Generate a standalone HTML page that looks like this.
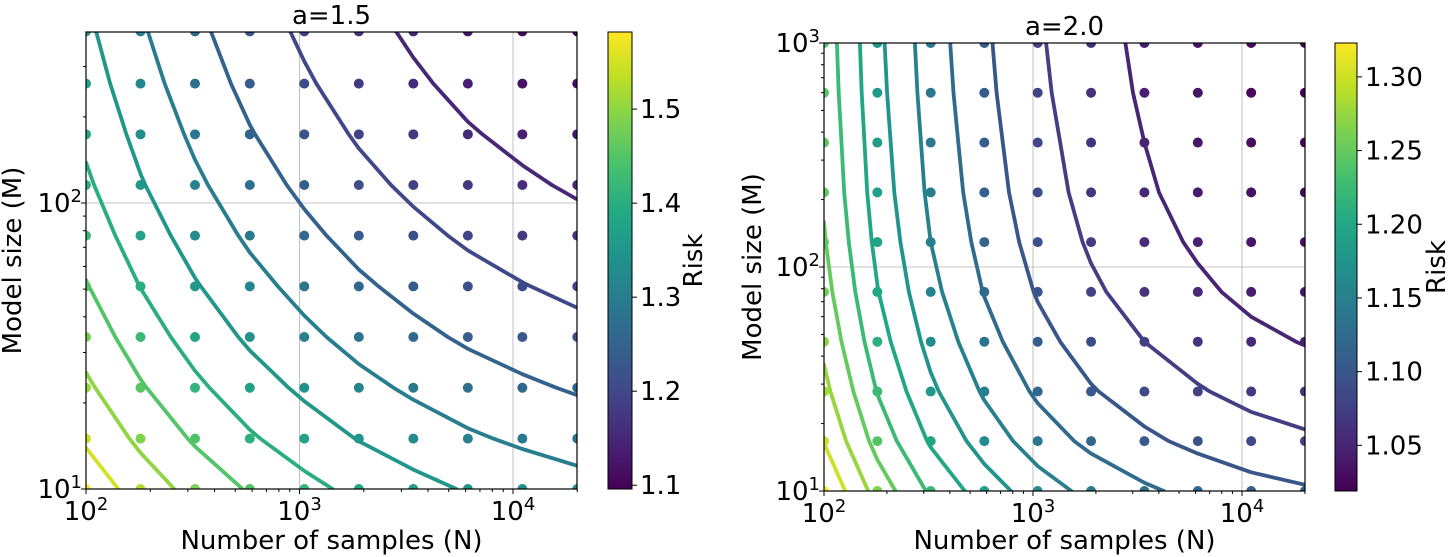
<!DOCTYPE html>
<html><head><meta charset="utf-8"><style>
html,body{margin:0;padding:0;background:#fff;}
svg{display:block;font-family:"DejaVu Sans","Liberation Sans",sans-serif;}
</style></head>
<body>
<svg id="fig" width="1448" height="557" viewBox="0 0 1448 557" xmlns="http://www.w3.org/2000/svg"></svg>
<script>
// ---- data ----
const samplesN = [100, 180, 324, 585, 1053, 1896, 3413, 6145, 11063, 20000];
const modelM_a15 = [10, 15.0, 22.6, 34.0, 51.1, 76.9, 115.6, 173.8, 261.4, 398];
const modelM_a20 = [10, 16.7, 27.8, 46.4, 77.4, 129.2, 215.4, 359.4, 599.5, 1000];
// risk[j][i]: j = model size index, i = sample index
const risk_a15 = [
 [1.582,1.528,1.483,1.445,1.414,1.387,1.365,1.346,1.331,1.318],
 [1.543,1.489,1.444,1.406,1.375,1.348,1.326,1.307,1.292,1.279],
 [1.509,1.455,1.410,1.372,1.341,1.314,1.292,1.273,1.258,1.245],
 [1.479,1.425,1.380,1.342,1.311,1.284,1.262,1.243,1.228,1.215],
 [1.453,1.399,1.354,1.316,1.285,1.258,1.236,1.217,1.202,1.189],
 [1.429,1.375,1.330,1.292,1.261,1.234,1.212,1.193,1.178,1.165],
 [1.408,1.354,1.309,1.271,1.240,1.213,1.191,1.172,1.157,1.144],
 [1.390,1.336,1.291,1.253,1.222,1.195,1.173,1.154,1.139,1.126],
 [1.374,1.320,1.275,1.237,1.206,1.179,1.157,1.138,1.123,1.110],
 [1.360,1.306,1.261,1.223,1.192,1.165,1.143,1.124,1.109,1.096]
];
const risk_a20 = [
 [1.323,1.265,1.221,1.188,1.162,1.143,1.129,1.118,1.109,1.103],
 [1.299,1.241,1.197,1.164,1.138,1.119,1.105,1.094,1.085,1.079],
 [1.282,1.224,1.180,1.147,1.121,1.102,1.088,1.077,1.068,1.062],
 [1.269,1.211,1.167,1.134,1.108,1.089,1.075,1.064,1.055,1.049],
 [1.259,1.201,1.157,1.124,1.098,1.079,1.065,1.054,1.045,1.039],
 [1.252,1.194,1.150,1.117,1.091,1.072,1.058,1.047,1.038,1.032],
 [1.247,1.189,1.145,1.112,1.086,1.067,1.053,1.042,1.033,1.027],
 [1.244,1.186,1.142,1.109,1.083,1.064,1.050,1.039,1.030,1.024],
 [1.241,1.183,1.139,1.106,1.080,1.061,1.047,1.036,1.027,1.021],
 [1.239,1.181,1.137,1.104,1.078,1.059,1.045,1.034,1.025,1.019]
];
const levels_a15 = [1.15,1.20,1.25,1.30,1.35,1.40,1.45,1.50,1.55];
const levels_a20 = [1.05,1.075,1.10,1.125,1.15,1.175,1.20,1.225,1.25,1.275,1.30];
const cbarTicks_a15 = [1.1,1.2,1.3,1.4,1.5];
const cbarTickLabels_a15 = ["1.1","1.2","1.3","1.4","1.5"];
const cbarTicks_a20 = [1.05,1.10,1.15,1.20,1.25,1.30];
const cbarTickLabels_a20 = ["1.05","1.10","1.15","1.20","1.25","1.30"];

const NS="http://www.w3.org/2000/svg";
const svg=document.getElementById('fig');
const SX=1.0, FS=26;
function el(tag,attrs,parent){const e=document.createElementNS(NS,tag);for(const k in attrs)e.setAttribute(k,attrs[k]);(parent||svg).appendChild(e);return e;}
function txt(x,y,anchor,parent,rot){
 const tr=rot?'translate('+x+' '+y+') rotate(-90) scale(1 '+SX+')':'translate('+x+' '+y+') scale('+SX+' 1)';
 return el('text',{x:0,y:0,'font-size':FS,'text-anchor':anchor,transform:tr},parent);
}
const VIR=[[68,1,84],[72,36,117],[65,68,135],[53,95,141],[42,120,142],[33,145,140],[34,168,132],[68,191,112],[122,209,81],[189,223,38],[253,231,37]];
function viridis(t){t=Math.max(0,Math.min(1,t));const f=t*10,i=Math.min(9,Math.floor(f)),r=f-i;const a=VIR[i],b=VIR[i+1];
 return 'rgb('+a.map((v,k)=>Math.round(v+(b[k]-v)*r)).join(',')+')';}

function panel(cfg){
 const g=el('g',{});  
 const {x0,x1,y0,y1}=cfg;
 const xs=v=>x0+(Math.log10(v)-2)*cfg.xdec;
 const ys=v=>y1-(Math.log10(v)-1)*cfg.ydec;
 const flat=cfg.risk.flat(); const vmin=Math.min(...flat), vmax=Math.max(...flat);
 const col=v=>viridis((v-vmin)/(vmax-vmin));
 const cid='clip'+cfg.id;
 const cp=el('clipPath',{id:cid},g); el('rect',{x:x0,y:y0,width:x1-x0,height:y1-y0},cp);
 const grid=el('g',{stroke:'#b0b0b0','stroke-width':0.8},g);
  
 [1000,10000].forEach(v=>el('line',{x1:xs(v),x2:xs(v),y1:y0,y2:y1},grid));
 cfg.yMajors.forEach(v=>{const y=ys(v); if(y>y0+1&&y<y1-1) el('line',{x1:x0,x2:x1,y1:y,y2:y},grid);});
 const dots=el('g',{'clip-path':'url(#'+cid+')'},g);
  
 cfg.M.forEach((m,j)=>samplesN.forEach((n,i)=>{
  const c=el('circle',{cx:xs(n),cy:ys(m),r:5,fill:col(cfg.risk[j][i])},dots);
   
 }));
 const cont=el('g',{'clip-path':'url(#'+cid+')',fill:'none','stroke-width':3.8,'stroke-linecap':'round','stroke-linejoin':'round'},g);
  
 const lx=samplesN.map(v=>Math.log10(v)), ly=cfg.M.map(v=>Math.log10(v));
 const X=l=>x0+(l-2)*cfg.xdec, Y=l=>y1-(l-1)*cfg.ydec;
 cfg.levels.forEach(L=>{
  let d='';
  for(let j=0;j<cfg.M.length-1;j++)for(let i=0;i<samplesN.length-1;i++){
   const c=[[lx[i],ly[j],cfg.risk[j][i]],[lx[i+1],ly[j],cfg.risk[j][i+1]],[lx[i+1],ly[j+1],cfg.risk[j+1][i+1]],[lx[i],ly[j+1],cfg.risk[j+1][i]]];
   const pts=[];
   for(let k=0;k<4;k++){const a=c[k],b=c[(k+1)%4];
    if((a[2]>=L)!==(b[2]>=L)){const t=(L-a[2])/(b[2]-a[2]);pts.push([X(a[0]+t*(b[0]-a[0])),Y(a[1]+t*(b[1]-a[1]))]);}}
   for(let k=0;k+1<pts.length;k+=2) d+='M'+pts[k][0].toFixed(1)+' '+pts[k][1].toFixed(1)+'L'+pts[k+1][0].toFixed(1)+' '+pts[k+1][1].toFixed(1);
  }
  const p=el('path',{d:d,stroke:col(L)},cont);
   
 });
 const fr=el('rect',{x:x0,y:y0,width:x1-x0,height:y1-y0,fill:'none',stroke:'#000','stroke-width':1.2},g);
  
 const tk=el('g',{stroke:'#000','stroke-width':1},g);
  
 for(let e=2;e<=4;e++)for(let k=1;k<10;k++){const v=k*Math.pow(10,e);const x=xs(v);if(x>x1+0.5)continue;
  el('line',{x1:x,x2:x,y1:y1,y2:y1+(k===1?5:3)},tk);}
 for(let e=1;e<=3;e++)for(let k=1;k<10;k++){const v=k*Math.pow(10,e);const y=ys(v);if(y<y0-0.5)continue;
  el('line',{x1:x0,x2:x0-(k===1?5:3),y1:y,y2:y},tk);}
 [[100,'2'],[1000,'3'],[10000,'4']].forEach(([v,e])=>{
  const t=txt(xs(v),y1+31,'middle',g);
   
  t.innerHTML='10<tspan dy="-10" font-size="18">'+e+'</tspan>';
 });
 cfg.yMajors.forEach(v=>{const e=Math.round(Math.log10(v));
  const t=txt(x0-4,ys(v)+9,'end',g);
   
  t.innerHTML='10<tspan dy="-10" font-size="18">'+e+'</tspan>';
 });
 const cx=(x0+x1)/2;
 const ti=txt(cx,cfg.titleY,'middle',g);
   ti.textContent=cfg.title;
 const xl=txt(cx,549,'middle',g);
   xl.textContent='Number of samples (N)';
 const yc=(y0+y1)/2;
 const yl=txt(cfg.ylabelX,yc,'middle',g,true);
   yl.textContent='Model size (M)';
 const cb=el('g',{},g);  
 const gid='grad'+cfg.id; const lg=el('linearGradient',{id:gid,x1:0,y1:1,x2:0,y2:0},cb);
 VIR.forEach((c,k)=>el('stop',{offset:(k*10)+'%','stop-color':'rgb('+c.join(',')+')'},lg));
 el('rect',{x:cfg.cbx,y:y0,width:cfg.cbw,height:y1-y0,fill:'url(#'+gid+')',stroke:'#000','stroke-width':1},cb);
 const cys=v=>y1-(v-vmin)/(vmax-vmin)*(y1-y0);
 cfg.cbTicks.forEach((v,k)=>{const y=cys(v);
  el('line',{x1:cfg.cbx+cfg.cbw,x2:cfg.cbx+cfg.cbw+5,y1:y,y2:y,stroke:'#000'},cb);
  const t=txt(cfg.cbx+cfg.cbw+8,y+9,'start',cb);
    t.textContent=cfg.cbLabels[k];
 });
 const rl=txt(cfg.riskX,yc,'middle',cb,true);
   rl.textContent='Risk';
}
panel({id:'a',name:'panel-a15',x0:86,x1:577,y0:32,y1:489,xdec:213.5,ydec:286,M:modelM_a15,risk:risk_a15,levels:levels_a15,
 yMajors:[10,100],title:'a=1.5',titleY:24,ylabelX:21,cbx:608,cbw:24,cbTicks:cbarTicks_a15,cbLabels:cbarTickLabels_a15,riskX:702});
panel({id:'b',name:'panel-a20',x0:824,x1:1305,y0:43,y1:491,xdec:209,ydec:224,M:modelM_a20,risk:risk_a20,levels:levels_a20,
 yMajors:[10,100,1000],title:'a=2.0',titleY:35,ylabelX:761,cbx:1335,cbw:22,cbTicks:cbarTicks_a20,cbLabels:cbarTickLabels_a20,riskX:1445});
</script>
</body></html>
